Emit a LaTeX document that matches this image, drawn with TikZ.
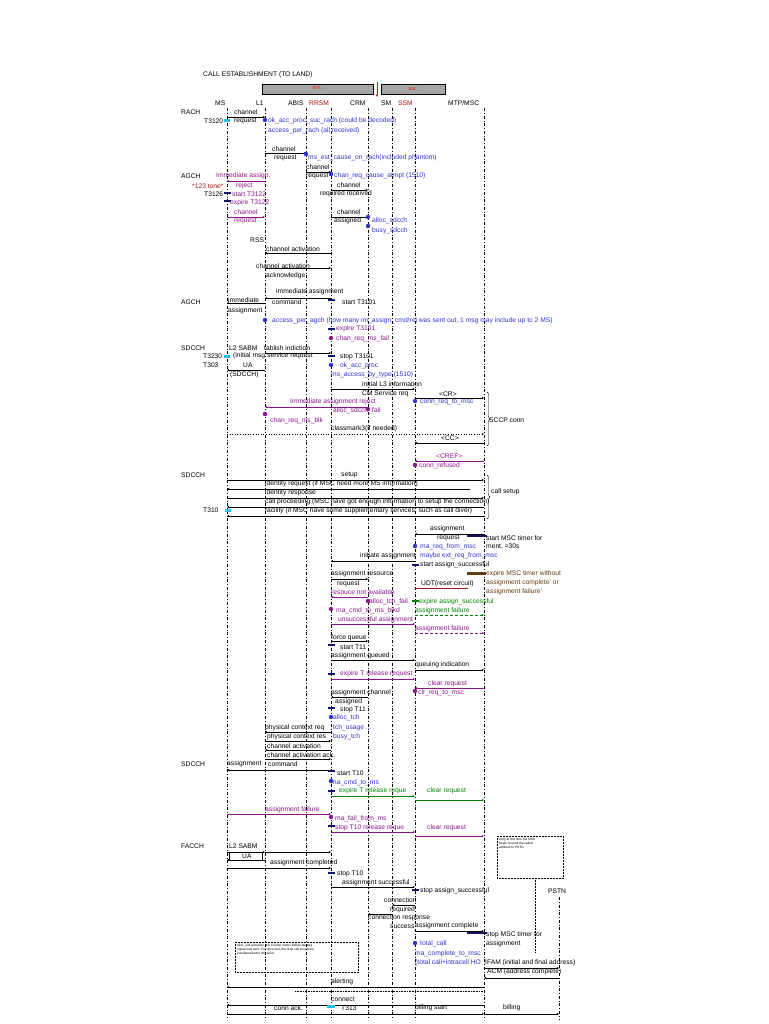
\documentclass[tikz,border=0pt]{standalone}
\usepackage{fontspec}
\setmainfont{Liberation Sans}
\usetikzlibrary{arrows.meta,decorations.pathreplacing}
\definecolor{blu}{RGB}{50,50,210}
\definecolor{pur}{RGB}{140,20,140}
\definecolor{grn}{RGB}{0,130,0}
\definecolor{nav}{RGB}{20,20,100}
\definecolor{brn}{RGB}{100,60,20}
\definecolor{cyn}{RGB}{40,190,230}
\definecolor{dred}{RGB}{170,20,20}
\tikzset{tx/.style={anchor=west,inner sep=0pt,font=\fontsize{6.7}{7}\selectfont},
 ll/.style={line width=0.5pt,dash pattern=on 3pt off 2pt on 0.6pt off 2pt},
 ms/.style={line width=0.6pt,-{Stealth[length=2.4pt,width=2.2pt]}}}
\newcommand\msg[4][black]{\draw[ms,#1] (#2,#4)--(#3,#4);}
\newcommand\tx[4][black]{\node[tx,text=#1] at (#2,#3) {#4};}
\newcommand\dotm[3][blu]{\fill[#1] (#2,#3) circle (2.2);}
\newcommand\tmr[3][nav]{\fill[#1] (#2-3.5,#3-1.3) rectangle (#2+3.5,#3+1.3);}
\def\MS{227}\def\LA{265}\def\AB{306}\def\RR{331}\def\CR{368}\def\SM{392}\def\SS{415}\def\MC{484}\def\PS{559}
\begin{document}
\begin{tikzpicture}[x=1pt,y=-1pt]
\useasboundingbox (0,0) rectangle (768,1024);
\tx{203}{75}{CALL ESTABLISHMENT (TO LAND)}
\filldraw[fill=gray!70,draw=black,line width=0.4pt] (262,84) rectangle (373,94);
\filldraw[fill=gray!70,draw=black,line width=0.4pt] (381,84) rectangle (445,94);
\node[tx,anchor=center,text=red,font=\fontsize{4}{4}\selectfont] at (317,88) {BTS};
\node[tx,anchor=center,text=red,font=\fontsize{4}{4}\selectfont] at (413,89) {BSC};
\draw[red,line width=0.6pt,-{Stealth[length=3pt,width=2.5pt]}] (377,82)--(377,97);
\tx{215}{103}{MS}\tx{256}{103}{L1}\tx{288}{103}{ABIS}\tx[dred]{309}{103}{RRSM}
\tx{350}{103}{CRM}\tx{381}{103}{SM}\tx[dred]{398}{103}{SSM}\tx{448}{103}{MTP/MSC}
\tx{548}{891}{PSTN}
\foreach \x in {\MS,\LA,\AB,\RR,\CR,\SM,\SS,\MC} \draw[ll] (\x,108)--(\x,1020);
\draw[ll] (\PS,897)--(\PS,1020);
\tx{181}{112}{RACH}
\tx{234}{112}{channel}\msg{\MS}{\LA}{117}\tx{234}{121}{request}
\tx{204}{121}{T3120}\fill[cyn] (224,119.5) rectangle (230,122.5);
\dotm{\LA}{120}\tx[blu]{268}{121}{ok\_acc\_proc\_suc\_rach (could be decoded)}
\tx[blu]{268}{131}{access\_per\_rach (all received)}
\tx{272}{149}{channel}\msg{\LA}{\AB}{153}\tx{274}{158}{request}
\dotm{\AB}{154}\tx[blu]{308}{158}{ms\_est\_cause\_on\_rach(included phantom)}
\tx{306}{167}{channel}\msg{\AB}{\RR}{172}\tx{306}{176}{request}
\dotm{\RR}{174}\tx[blu]{334}{176}{chan\_req\_cause\_atmpt (1510)}
\tx{181}{176}{AGCH}\tx[pur]{216}{176}{Immediate assign.}\msg[pur]{\LA}{\MS}{181}\tx[pur]{236}{186}{reject}
\tx[dred]{192}{186}{*123 tone*}
\tx{337}{185}{channel}\msg{\RR}{\CR}{190}\tx{320}{194}{required received}
\tx{204}{194}{T3126}\tmr{\MS}{193}\tx[pur]{232}{194}{start T3122}
\tmr{\MS}{201}\tx[pur]{230}{203}{expire T3122}
\tx[pur]{234}{212}{channel}\msg[pur]{\MS}{\LA}{217}\tx[pur]{234}{221}{request}
\tx{337}{212}{channel}\msg{\RR}{\CR}{217}\tx{334}{221}{assigned}
\dotm{\CR}{217}\dotm{\CR}{226}\tx[blu]{372}{221}{alloc\_sdcch}\tx[blu]{372}{231}{busy\_sdcch}
\tx{250}{240}{RSS}
\tx{266}{249}{channel activation}\msg{\RR}{\LA}{253}
\tx{256}{266}{channel activation}\msg{\LA}{\RR}{268}\tx{266}{276}{acknowledge}
\tx{276}{292}{immediate assignment}\msg{\RR}{\LA}{298}\tx{272}{302}{command}
\tmr{\RR}{300}\tx{342}{302}{start T3101}
\tx{181}{302}{AGCH}\tx{228}{300}{immediate}\msg{\LA}{\MS}{303}\tx{228}{311}{assignment}
\dotm{\LA}{320}\tx[blu]{272}{321}{access\_per\_agch (how many im\_assign\_cmd/rej was sent out, 1 msg may include up to 2 MS)}
\tmr{\RR}{329}\tx[pur]{336}{329}{expire T3101}
\dotm[pur]{\RR}{338}\tx[pur]{336}{339}{chan\_req\_ms\_fail}
\tx{181}{348}{SDCCH}\tx{229}{348}{L2 SABM}\tx{264}{348}{tablish indiction}
\msg{\LA}{\RR}{353}
\tx{203}{356}{T3230}\fill[cyn] (224,354.5) rectangle (230,357.5);
\tx{233}{356}{(initial msg}\tx{267}{356}{service request}
\tmr{\RR}{356}\tx{340}{357}{stop T3101}
\tx{203}{365}{T303}\tx{243}{365}{UA}\msg{\LA}{\MS}{370}\tx{230}{375}{(SDCCH)}
\dotm{\RR}{365}\tx[blu]{340}{366}{ok\_acc\_proc}
\tx[blu]{331}{375}{ms\_access\_by\_type (1510)}
\tx{362}{384}{initial L3 information}\msg{\RR}{\SS}{389}
\tx{362}{394}{CM Service req}\tx{439}{394}{<CR>}\msg{\SS}{\MC}{398}
\draw[decorate,decoration={brace,amplitude=3pt}] (487,392)--(487,446);
\tx{489}{420}{SCCP conn}
\dotm{\SS}{401}\tx[blu]{420}{402}{conn\_req\_to\_msc}
\tx[pur]{290}{402}{Immediate assignment reject}\msg[pur]{\CR}{\LA}{407}
\dotm[pur]{\CR}{409}\tx[pur]{333}{411}{alloc\_sdcch\_fail}
\dotm[pur]{\LA}{414}\tx[pur]{270}{421}{chan\_req\_ms\_blk}
\tx{331}{429}{classmark3(if needed)}\draw[ms,dotted] (\MS,434)--(\MC,434);
\tx{441}{438}{<CC>}\msg{\MC}{\SS}{443}
\tx[pur]{436}{456}{<CREF>}\msg[pur]{\MC}{\SS}{461}
\dotm[pur]{\SS}{465}\tx[pur]{419}{466}{conn\_refused}
\tx{181}{475}{SDCCH}\tx{341}{475}{setup}\msg{\MS}{\MC}{480}
\tx{265}{484}{identity request (if MSC need more MS information)}\msg{470}{\MS}{489}
\tx{265}{493}{identity response}\msg{\MS}{\MC}{498}
\tx{265}{502}{call proceeding (MSC have got enough information to setup the connection)}\msg{\MC}{\MS}{507}
\tx{203}{510}{T310}\fill[cyn] (225,508.5) rectangle (231,511.5);
\tx{265}{511}{facility (if MSC have some supplementary services, such as call diver)}\msg{\MC}{\MS}{516}
\draw[decorate,decoration={brace,amplitude=3pt}] (487,475)--(487,519);
\tx{491}{492}{call setup}
\tx{430}{529}{assignment}\msg{\MC}{\SS}{534}\tx{437}{538}{request}
\fill[nav] (467,534.8) rectangle (487,537.2);
\tx{486}{538}{start MSC timer for}\tx{486}{547}{ment, =30s}
\dotm{\SS}{546}\tx[blu]{420}{547}{ma\_req\_from\_msc}
\tx{360}{556}{initiate assignment}\tx[blu]{420}{556}{maybe ext\_req\_from\_msc}
\msg{\SS}{\RR}{561}
\tmr{\SS}{565}\tx{420}{565}{start assign\_successful}
\fill[brn] (467,572) rectangle (486,574.5);
\tx[brn]{486}{574}{expire MSC timer without}\tx[brn]{486}{583}{assignment complete' or}\tx[brn]{486}{592}{assignment failure'}
\tx{331}{574}{assignment resource}\msg{\RR}{\CR}{579}\tx{337}{584}{request}
\tx{421}{584}{UDT(reset circuit)}\draw[line width=0.6pt,dred] (\SS,588)--(468,588);
\tx[pur]{331}{592}{resouce not available}\msg[pur]{\CR}{\RR}{597}
\dotm[pur]{\CR}{601}\tx[pur]{369}{602}{alloc\_tch\_fail}
\fill[grn] (\SS-3.5,599.7) rectangle (\SS+3.5,602.3);\tx[grn]{419}{602}{expire assign\_successful}
\dotm[pur]{\RR}{609}\tx[pur]{336}{611}{ma\_cmd\_to\_ms\_blkd}
\tx[grn]{415}{611}{assignment failure}\draw[ms,grn,densely dashed] (\SS,615)--(\MC,615);
\tx[pur]{338}{620}{unsuccessful assignment}\msg[pur]{\RR}{\SS}{624}
\tx[pur]{415}{629}{assignment failure}\draw[ms,pur,densely dashed] (\SS,633)--(\MC,633);
\tx{331}{638}{force queue}\msg{\RR}{\CR}{641}
\tmr{\RR}{645}\tx{340}{647}{start T11}
\tx{331}{656}{assignment queued}\msg{\RR}{\SS}{660}
\tx{415}{665}{queuing indication}\msg{\SS}{\MC}{670}
\tmr{\RR}{674}\tx[pur]{340}{674}{expire T release request}\msg[pur]{\RR}{\SS}{679}
\tx[pur]{428}{684}{clear request}\msg[pur]{\MC}{\SS}{688}
\dotm[pur]{\SS}{691}\tx[pur]{418}{693}{clr\_req\_to\_msc}
\tx{331}{693}{assignment channel}\msg{\CR}{\RR}{697}\tx{335}{702}{assigned}
\tmr{\RR}{708}\tx{340}{710}{stop T11}
\dotm{\RR}{717}\tx[blu]{333}{718}{alloc\_tch}
\tx{265}{728}{physical context req}\tx[blu]{333}{728}{tch\_usage ...}
\msg{\RR}{\LA}{732}
\tx{267}{737}{physical context res}\tx[blu]{333}{737}{busy\_tch}\msg{\LA}{\RR}{741}
\tx{267}{746}{channel activation}\msg{\RR}{\LA}{750}
\tx{267}{755}{channel activation ack.}\msg{\LA}{\RR}{759}
\tx{181}{764}{SDCCH}\tx{227}{764}{assignment}\tx{268}{764}{command}\msg{\RR}{\MS}{770}
\tmr{\RR}{771}\tx{337}{773}{start T10}
\dotm{\RR}{781}\tx[blu]{331}{783}{ma\_cmd\_to\_ms}
\tmr{\RR}{791}\tx[grn]{339}{791}{expire T release reque}\tx[grn]{427}{791}{clear request}
\msg[grn]{\RR}{\SS}{796}\msg[grn]{\SS}{\MC}{800}
\tx[pur]{265}{810}{assignment failure}\msg[pur]{\MS}{\RR}{814}
\dotm[pur]{\RR}{817}\tx[pur]{335}{819}{ma\_fail\_from\_ms}
\tmr{\RR}{826}\tx[pur]{335}{828}{stop T10 release reque}\tx[pur]{427}{828}{clear request}
\msg[pur]{\RR}{\SS}{832}\msg[pur]{\SS}{\MC}{836}
\draw[densely dotted,line width=0.5pt] (497,836) rectangle (563,878);
\node[tx,anchor=north west,font=\fontsize{3.2}{4}\selectfont,align=left] at (499,838) {Only at this time the MSC\\begin to send the called\\address to PSTN};
\draw[densely dotted,line width=0.5pt] (535,878)--(535,953);
\tx{181}{846}{FACCH}\tx{229}{846}{L2 SABM}\msg{\MS}{\LA}{852}\msg{\LA}{\RR}{852}
\draw[line width=0.4pt] (229,852) rectangle (262,860);\tx{242}{856}{UA}\msg{\LA}{\MS}{860}
\tx{270}{863}{assignment completed}\msg{\MS}{\RR}{868}
\tmr{\RR}{873}\tx{337}{874}{stop T10}
\tx{342}{883}{assignment successful}\msg{\RR}{\SS}{887}
\tmr{\SS}{890}\tx{420}{891}{stop assign\_successful}
\tx{384}{900}{connection}\msg{\SS}{\SM}{905}\tx{390}{910}{required}
\tx{368}{918}{connection response}\msg{\SM}{\CR}{914}\tx{390}{927}{success}
\tx{415}{926}{assignment complete}\msg{\SS}{\MC}{931}
\fill[nav] (467,931.8) rectangle (487,934.2);
\tx{486}{935}{stop MSC timer for}\tx{486}{944}{assignment}
\dotm{\SS}{943}\tx[blu]{420}{944}{total\_call}
\tx[blu]{415}{954}{ma\_complete\_to\_msc}\tx[blu]{415}{963}{(total call+intracell HO}
\draw[densely dotted,line width=0.5pt] (235,942) rectangle (358,972);
\node[tx,anchor=north west,font=\fontsize{3.2}{4}\selectfont,align=left] at (237,943.5) {alloc\_call and alloc\_tch counter works before alerting\\signal was sent.  For drive test, the drop call should be\\considered after this point.};
\tx{485}{963}{IFAM (initial and final address)}\msg{\MC}{\PS}{968}
\tx{487}{972}{ACM (address complete)}\msg{\PS}{\MC}{978}
\tx{331}{982}{alerting}\msg{\MC}{\MS}{987}
\draw[densely dotted,line width=0.6pt] (295,991)--(\MC,991);
\tx{331}{999}{connect}\msg{\MC}{\MS}{1005}
\fill[cyn] (\RR-4,1004.5) rectangle (\RR+4,1007.5);\tx{341}{1008}{T313}
\tx{274}{1008}{conn ack.}\tx{415}{1008}{billing start}\tx{503}{1008}{billing}
\msg{\MS}{\MC}{1014}\msg{\MC}{\PS}{1014}
\end{tikzpicture}
\end{document}
